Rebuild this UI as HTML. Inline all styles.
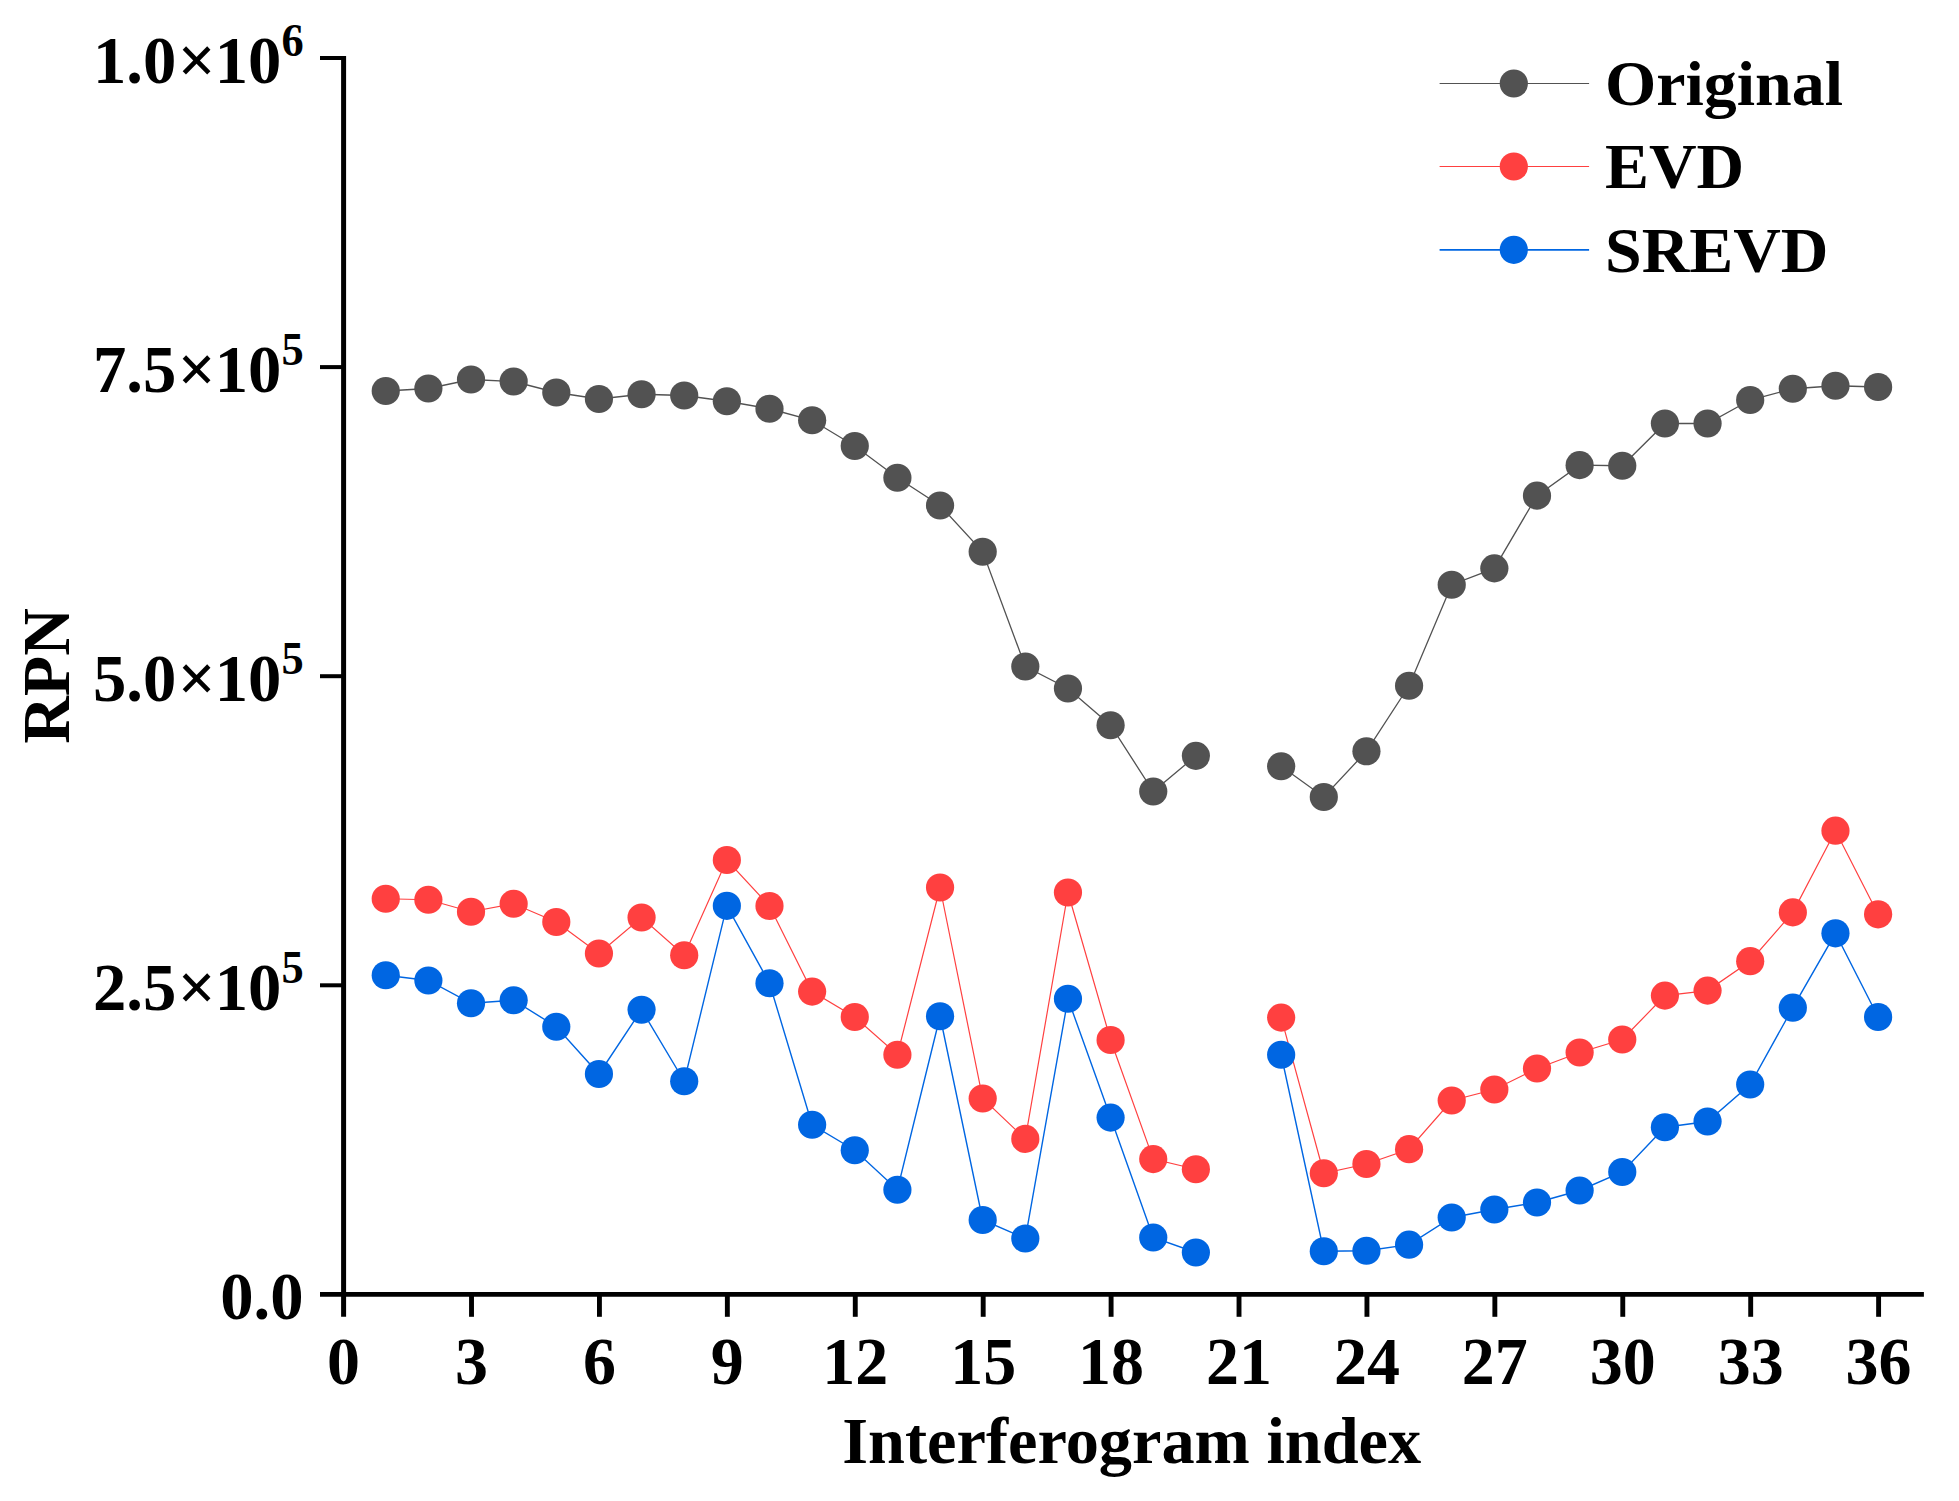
<!DOCTYPE html>
<html lang="en"><head><meta charset="utf-8"><title>RPN vs Interferogram index</title>
<style>
html,body{margin:0;padding:0;background:#fff;}
body{width:1959px;height:1501px;overflow:hidden;}
svg{display:block;}
.t{font-family:"Liberation Serif","Times New Roman",serif;font-weight:bold;fill:#000;}
</style></head><body>
<svg width="1959" height="1501" viewBox="0 0 1959 1501">
<rect width="1959" height="1501" fill="#fff"/>
<g stroke="#000" fill="none">
<line x1="343.6" y1="56" x2="343.6" y2="1316.8" stroke-width="5"/>
<line x1="320" y1="1294.4" x2="1923.9" y2="1294.4" stroke-width="4.7"/>
<line x1="471.52" y1="1294.4" x2="471.52" y2="1316.8" stroke-width="4.9"/>
<line x1="599.43" y1="1294.4" x2="599.43" y2="1316.8" stroke-width="4.9"/>
<line x1="727.35" y1="1294.4" x2="727.35" y2="1316.8" stroke-width="4.9"/>
<line x1="855.27" y1="1294.4" x2="855.27" y2="1316.8" stroke-width="4.9"/>
<line x1="983.19" y1="1294.4" x2="983.19" y2="1316.8" stroke-width="4.9"/>
<line x1="1111.10" y1="1294.4" x2="1111.10" y2="1316.8" stroke-width="4.9"/>
<line x1="1239.02" y1="1294.4" x2="1239.02" y2="1316.8" stroke-width="4.9"/>
<line x1="1366.94" y1="1294.4" x2="1366.94" y2="1316.8" stroke-width="4.9"/>
<line x1="1494.85" y1="1294.4" x2="1494.85" y2="1316.8" stroke-width="4.9"/>
<line x1="1622.77" y1="1294.4" x2="1622.77" y2="1316.8" stroke-width="4.9"/>
<line x1="1750.69" y1="1294.4" x2="1750.69" y2="1316.8" stroke-width="4.9"/>
<line x1="1878.60" y1="1294.4" x2="1878.60" y2="1316.8" stroke-width="4.9"/>
<line x1="320" y1="985.30" x2="343.6" y2="985.30" stroke-width="4"/>
<line x1="320" y1="676.20" x2="343.6" y2="676.20" stroke-width="4"/>
<line x1="320" y1="367.10" x2="343.6" y2="367.10" stroke-width="4"/>
<line x1="320" y1="58.00" x2="343.6" y2="58.00" stroke-width="4"/>
</g>
<g class="t" text-anchor="middle" font-size="66">
<text transform="translate(343.60,1383.5) scale(1,1.015)">0</text>
<text transform="translate(471.52,1383.5) scale(1,1.015)">3</text>
<text transform="translate(599.43,1383.5) scale(1,1.015)">6</text>
<text transform="translate(727.35,1383.5) scale(1,1.015)">9</text>
<text transform="translate(855.27,1383.5) scale(1,1.015)">12</text>
<text transform="translate(983.19,1383.5) scale(1,1.015)">15</text>
<text transform="translate(1111.10,1383.5) scale(1,1.015)">18</text>
<text transform="translate(1239.02,1383.5) scale(1,1.015)">21</text>
<text transform="translate(1366.94,1383.5) scale(1,1.015)">24</text>
<text transform="translate(1494.85,1383.5) scale(1,1.015)">27</text>
<text transform="translate(1622.77,1383.5) scale(1,1.015)">30</text>
<text transform="translate(1750.69,1383.5) scale(1,1.015)">33</text>
<text transform="translate(1878.60,1383.5) scale(1,1.015)">36</text>
</g>
<g class="t" text-anchor="end" font-size="66">
<text transform="translate(303.6,1319.20) scale(1.01,1.032)">0.0</text>
<text transform="translate(303.6,1010.10) scale(1.01,1.032)">2.5<tspan dx="1.5">×</tspan><tspan dx="-1.1">10</tspan><tspan font-size="44" dy="-26">5</tspan></text>
<text transform="translate(303.6,701.00) scale(1.01,1.032)">5.0<tspan dx="1.5">×</tspan><tspan dx="-1.1">10</tspan><tspan font-size="44" dy="-26">5</tspan></text>
<text transform="translate(303.6,391.90) scale(1.01,1.032)">7.5<tspan dx="1.5">×</tspan><tspan dx="-1.1">10</tspan><tspan font-size="44" dy="-26">5</tspan></text>
<text transform="translate(303.6,82.80) scale(1.01,1.032)">1.0<tspan dx="1.5">×</tspan><tspan dx="-1.1">10</tspan><tspan font-size="44" dy="-26">6</tspan></text>
</g>
<text class="t" font-size="66" text-anchor="middle" transform="translate(1131.7,1463.2) scale(1.005,1)">Interferogram index</text>
<text class="t" font-size="66" text-anchor="middle" transform="translate(68.7,676) rotate(-90) scale(1,1.034)">RPN</text>
<polyline points="385.74,391.0 428.38,388.5 471.02,379.5 513.66,381.5 556.3,392.5 598.93,399.0 641.57,394.25 684.21,395.5 726.85,401.25 769.49,408.75 812.13,420.25 854.77,446.0 897.41,477.75 940.05,505.5 982.69,551.75 1025.32,666.5 1067.96,688.5 1110.6,725.25 1153.24,791.5 1195.88,755.85" fill="none" stroke="#525252" stroke-width="1.3"/>
<polyline points="1281.16,766.25 1323.8,797.0 1366.44,751.25 1409.08,685.75 1451.71,584.75 1494.35,568.35 1536.99,495.65 1579.63,465.15 1622.27,465.75 1664.91,423.5 1707.55,423.5 1750.19,400.0 1792.83,388.75 1835.47,385.75 1878.1,387.0" fill="none" stroke="#525252" stroke-width="1.3"/>
<circle cx="385.74" cy="391.0" r="14.1" fill="#525252"/>
<circle cx="428.38" cy="388.5" r="14.1" fill="#525252"/>
<circle cx="471.02" cy="379.5" r="14.1" fill="#525252"/>
<circle cx="513.66" cy="381.5" r="14.1" fill="#525252"/>
<circle cx="556.3" cy="392.5" r="14.1" fill="#525252"/>
<circle cx="598.93" cy="399.0" r="14.1" fill="#525252"/>
<circle cx="641.57" cy="394.25" r="14.1" fill="#525252"/>
<circle cx="684.21" cy="395.5" r="14.1" fill="#525252"/>
<circle cx="726.85" cy="401.25" r="14.1" fill="#525252"/>
<circle cx="769.49" cy="408.75" r="14.1" fill="#525252"/>
<circle cx="812.13" cy="420.25" r="14.1" fill="#525252"/>
<circle cx="854.77" cy="446.0" r="14.1" fill="#525252"/>
<circle cx="897.41" cy="477.75" r="14.1" fill="#525252"/>
<circle cx="940.05" cy="505.5" r="14.1" fill="#525252"/>
<circle cx="982.69" cy="551.75" r="14.1" fill="#525252"/>
<circle cx="1025.32" cy="666.5" r="14.1" fill="#525252"/>
<circle cx="1067.96" cy="688.5" r="14.1" fill="#525252"/>
<circle cx="1110.6" cy="725.25" r="14.1" fill="#525252"/>
<circle cx="1153.24" cy="791.5" r="14.1" fill="#525252"/>
<circle cx="1195.88" cy="755.85" r="14.1" fill="#525252"/>
<circle cx="1281.16" cy="766.25" r="14.1" fill="#525252"/>
<circle cx="1323.8" cy="797.0" r="14.1" fill="#525252"/>
<circle cx="1366.44" cy="751.25" r="14.1" fill="#525252"/>
<circle cx="1409.08" cy="685.75" r="14.1" fill="#525252"/>
<circle cx="1451.71" cy="584.75" r="14.1" fill="#525252"/>
<circle cx="1494.35" cy="568.35" r="14.1" fill="#525252"/>
<circle cx="1536.99" cy="495.65" r="14.1" fill="#525252"/>
<circle cx="1579.63" cy="465.15" r="14.1" fill="#525252"/>
<circle cx="1622.27" cy="465.75" r="14.1" fill="#525252"/>
<circle cx="1664.91" cy="423.5" r="14.1" fill="#525252"/>
<circle cx="1707.55" cy="423.5" r="14.1" fill="#525252"/>
<circle cx="1750.19" cy="400.0" r="14.1" fill="#525252"/>
<circle cx="1792.83" cy="388.75" r="14.1" fill="#525252"/>
<circle cx="1835.47" cy="385.75" r="14.1" fill="#525252"/>
<circle cx="1878.1" cy="387.0" r="14.1" fill="#525252"/>
<polyline points="385.74,898.75 428.38,899.75 471.02,911.75 513.66,903.75 556.3,922 598.93,953.5 641.57,917.5 684.21,955.25 726.85,860 769.49,906 812.13,991.6 854.77,1017 897.41,1054.75 940.05,887.5 982.69,1098.5 1025.32,1138.9 1067.96,892.5 1110.6,1040 1153.24,1159.1 1195.88,1169.25" fill="none" stroke="#ff4040" stroke-width="1.2"/>
<polyline points="1281.16,1017.6 1323.8,1173.25 1366.44,1164 1409.08,1149.2 1451.71,1100.5 1494.35,1089.5 1536.99,1068.5 1579.63,1052.5 1622.27,1039.5 1664.91,995.6 1707.55,990.6 1750.19,961.2 1792.83,912.4 1835.47,830.7 1878.1,914.3" fill="none" stroke="#ff4040" stroke-width="1.2"/>
<circle cx="385.74" cy="898.75" r="14.1" fill="#ff4040"/>
<circle cx="428.38" cy="899.75" r="14.1" fill="#ff4040"/>
<circle cx="471.02" cy="911.75" r="14.1" fill="#ff4040"/>
<circle cx="513.66" cy="903.75" r="14.1" fill="#ff4040"/>
<circle cx="556.3" cy="922" r="14.1" fill="#ff4040"/>
<circle cx="598.93" cy="953.5" r="14.1" fill="#ff4040"/>
<circle cx="641.57" cy="917.5" r="14.1" fill="#ff4040"/>
<circle cx="684.21" cy="955.25" r="14.1" fill="#ff4040"/>
<circle cx="726.85" cy="860" r="14.1" fill="#ff4040"/>
<circle cx="769.49" cy="906" r="14.1" fill="#ff4040"/>
<circle cx="812.13" cy="991.6" r="14.1" fill="#ff4040"/>
<circle cx="854.77" cy="1017" r="14.1" fill="#ff4040"/>
<circle cx="897.41" cy="1054.75" r="14.1" fill="#ff4040"/>
<circle cx="940.05" cy="887.5" r="14.1" fill="#ff4040"/>
<circle cx="982.69" cy="1098.5" r="14.1" fill="#ff4040"/>
<circle cx="1025.32" cy="1138.9" r="14.1" fill="#ff4040"/>
<circle cx="1067.96" cy="892.5" r="14.1" fill="#ff4040"/>
<circle cx="1110.6" cy="1040" r="14.1" fill="#ff4040"/>
<circle cx="1153.24" cy="1159.1" r="14.1" fill="#ff4040"/>
<circle cx="1195.88" cy="1169.25" r="14.1" fill="#ff4040"/>
<circle cx="1281.16" cy="1017.6" r="14.1" fill="#ff4040"/>
<circle cx="1323.8" cy="1173.25" r="14.1" fill="#ff4040"/>
<circle cx="1366.44" cy="1164" r="14.1" fill="#ff4040"/>
<circle cx="1409.08" cy="1149.2" r="14.1" fill="#ff4040"/>
<circle cx="1451.71" cy="1100.5" r="14.1" fill="#ff4040"/>
<circle cx="1494.35" cy="1089.5" r="14.1" fill="#ff4040"/>
<circle cx="1536.99" cy="1068.5" r="14.1" fill="#ff4040"/>
<circle cx="1579.63" cy="1052.5" r="14.1" fill="#ff4040"/>
<circle cx="1622.27" cy="1039.5" r="14.1" fill="#ff4040"/>
<circle cx="1664.91" cy="995.6" r="14.1" fill="#ff4040"/>
<circle cx="1707.55" cy="990.6" r="14.1" fill="#ff4040"/>
<circle cx="1750.19" cy="961.2" r="14.1" fill="#ff4040"/>
<circle cx="1792.83" cy="912.4" r="14.1" fill="#ff4040"/>
<circle cx="1835.47" cy="830.7" r="14.1" fill="#ff4040"/>
<circle cx="1878.1" cy="914.3" r="14.1" fill="#ff4040"/>
<polyline points="385.74,975.25 428.38,980.5 471.02,1003.25 513.66,1000.25 556.3,1026.75 598.93,1074 641.57,1009.75 684.21,1081.25 726.85,905.8 769.49,983.25 812.13,1124.75 854.77,1150.25 897.41,1189.75 940.05,1016.25 982.69,1220 1025.32,1238.5 1067.96,998.75 1110.6,1117.6 1153.24,1237.5 1195.88,1252.5" fill="none" stroke="#0066e2" stroke-width="1.4"/>
<polyline points="1281.16,1054.75 1323.8,1251.25 1366.44,1250.75 1409.08,1244.7 1451.71,1217.5 1494.35,1209.5 1536.99,1202.5 1579.63,1190.5 1622.27,1172 1664.91,1127.25 1707.55,1121.5 1750.19,1084.5 1792.83,1007.7 1835.47,933.3 1878.1,1017" fill="none" stroke="#0066e2" stroke-width="1.4"/>
<circle cx="385.74" cy="975.25" r="14.1" fill="#0066e2"/>
<circle cx="428.38" cy="980.5" r="14.1" fill="#0066e2"/>
<circle cx="471.02" cy="1003.25" r="14.1" fill="#0066e2"/>
<circle cx="513.66" cy="1000.25" r="14.1" fill="#0066e2"/>
<circle cx="556.3" cy="1026.75" r="14.1" fill="#0066e2"/>
<circle cx="598.93" cy="1074" r="14.1" fill="#0066e2"/>
<circle cx="641.57" cy="1009.75" r="14.1" fill="#0066e2"/>
<circle cx="684.21" cy="1081.25" r="14.1" fill="#0066e2"/>
<circle cx="726.85" cy="905.8" r="14.1" fill="#0066e2"/>
<circle cx="769.49" cy="983.25" r="14.1" fill="#0066e2"/>
<circle cx="812.13" cy="1124.75" r="14.1" fill="#0066e2"/>
<circle cx="854.77" cy="1150.25" r="14.1" fill="#0066e2"/>
<circle cx="897.41" cy="1189.75" r="14.1" fill="#0066e2"/>
<circle cx="940.05" cy="1016.25" r="14.1" fill="#0066e2"/>
<circle cx="982.69" cy="1220" r="14.1" fill="#0066e2"/>
<circle cx="1025.32" cy="1238.5" r="14.1" fill="#0066e2"/>
<circle cx="1067.96" cy="998.75" r="14.1" fill="#0066e2"/>
<circle cx="1110.6" cy="1117.6" r="14.1" fill="#0066e2"/>
<circle cx="1153.24" cy="1237.5" r="14.1" fill="#0066e2"/>
<circle cx="1195.88" cy="1252.5" r="14.1" fill="#0066e2"/>
<circle cx="1281.16" cy="1054.75" r="14.1" fill="#0066e2"/>
<circle cx="1323.8" cy="1251.25" r="14.1" fill="#0066e2"/>
<circle cx="1366.44" cy="1250.75" r="14.1" fill="#0066e2"/>
<circle cx="1409.08" cy="1244.7" r="14.1" fill="#0066e2"/>
<circle cx="1451.71" cy="1217.5" r="14.1" fill="#0066e2"/>
<circle cx="1494.35" cy="1209.5" r="14.1" fill="#0066e2"/>
<circle cx="1536.99" cy="1202.5" r="14.1" fill="#0066e2"/>
<circle cx="1579.63" cy="1190.5" r="14.1" fill="#0066e2"/>
<circle cx="1622.27" cy="1172" r="14.1" fill="#0066e2"/>
<circle cx="1664.91" cy="1127.25" r="14.1" fill="#0066e2"/>
<circle cx="1707.55" cy="1121.5" r="14.1" fill="#0066e2"/>
<circle cx="1750.19" cy="1084.5" r="14.1" fill="#0066e2"/>
<circle cx="1792.83" cy="1007.7" r="14.1" fill="#0066e2"/>
<circle cx="1835.47" cy="933.3" r="14.1" fill="#0066e2"/>
<circle cx="1878.1" cy="1017" r="14.1" fill="#0066e2"/>
<line x1="1439.6" y1="83.5" x2="1589.1" y2="83.5" stroke="#525252" stroke-width="1.0"/>
<circle cx="1513.8" cy="83.5" r="14.1" fill="#525252"/>
<text class="t" font-size="64" transform="translate(1605,105.2) scale(1.03,1)">Original</text>
<line x1="1439.6" y1="166.5" x2="1589.1" y2="166.5" stroke="#ff4040" stroke-width="1.0"/>
<circle cx="1513.8" cy="166.5" r="14.1" fill="#ff4040"/>
<text class="t" font-size="64" transform="translate(1605,188.2) scale(1.03,1)">EVD</text>
<line x1="1439.6" y1="249.8" x2="1589.1" y2="249.8" stroke="#0066e2" stroke-width="1.7"/>
<circle cx="1513.8" cy="249.8" r="14.1" fill="#0066e2"/>
<text class="t" font-size="64" transform="translate(1605,271.5) scale(1.03,1)">SREVD</text>
</svg>
</body></html>
